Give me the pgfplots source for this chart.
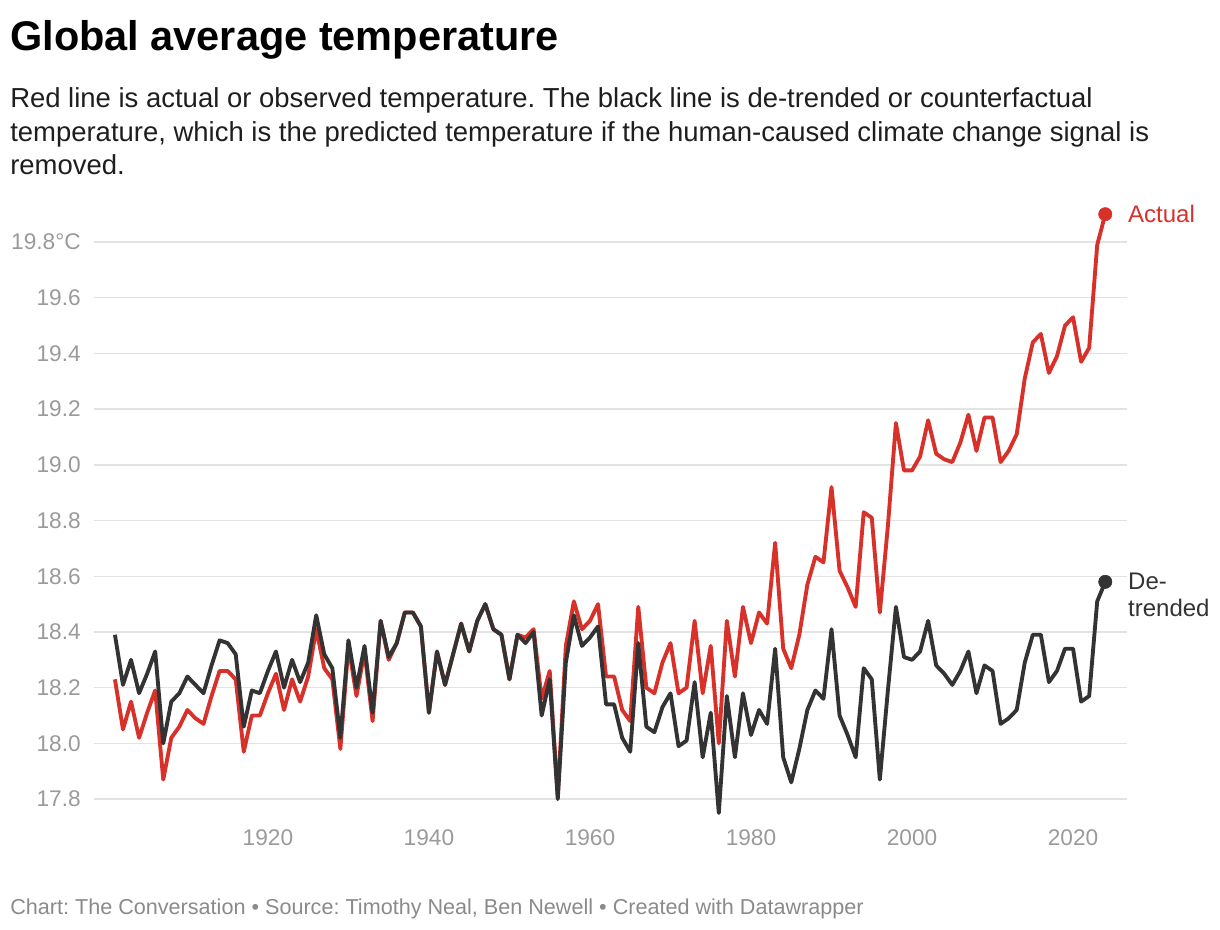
\documentclass[border=0pt]{standalone}
\usepackage{fontspec}
\setmainfont{Liberation Sans}
\usepackage{pgfplots}
\usepackage{pgfplotstable}
\pgfplotsset{compat=1.18}
\frenchspacing

\definecolor{actualred}{HTML}{D7312A}
\definecolor{detrend}{HTML}{333333}
\definecolor{gridgray}{HTML}{E3E3E3}
\definecolor{ticktext}{HTML}{9A9A9A}
\definecolor{foot}{HTML}{8A8A8A}
\definecolor{bodytext}{HTML}{1E1E1E}

% year, observed temperature, de-trended (counterfactual) temperature
\pgfplotstableread{
year actual detrended
1901 18.23 18.39
1902 18.05 18.21
1903 18.15 18.30
1904 18.02 18.18
1905 18.11 18.25
1906 18.19 18.33
1907 17.87 18.00
1908 18.02 18.15
1909 18.06 18.18
1910 18.12 18.24
1911 18.09 18.21
1912 18.07 18.18
1913 18.17 18.28
1914 18.26 18.37
1915 18.26 18.36
1916 18.23 18.32
1917 17.97 18.06
1918 18.10 18.19
1919 18.10 18.18
1920 18.18 18.26
1921 18.25 18.33
1922 18.12 18.20
1923 18.23 18.30
1924 18.15 18.22
1925 18.24 18.29
1926 18.41 18.46
1927 18.27 18.32
1928 18.23 18.27
1929 17.98 18.02
1930 18.35 18.37
1931 18.17 18.20
1932 18.33 18.35
1933 18.08 18.11
1934 18.44 18.44
1935 18.30 18.31
1936 18.36 18.36
1937 18.47 18.47
1938 18.47 18.47
1939 18.42 18.42
1940 18.11 18.11
1941 18.33 18.33
1942 18.21 18.21
1943 18.32 18.32
1944 18.43 18.43
1945 18.33 18.33
1946 18.44 18.44
1947 18.50 18.50
1948 18.41 18.41
1949 18.39 18.39
1950 18.23 18.23
1951 18.39 18.39
1952 18.38 18.36
1953 18.41 18.40
1954 18.16 18.10
1955 18.26 18.23
1956 17.81 17.80
1957 18.35 18.29
1958 18.51 18.46
1959 18.41 18.35
1960 18.44 18.38
1961 18.50 18.42
1962 18.24 18.14
1963 18.24 18.14
1964 18.12 18.02
1965 18.08 17.97
1966 18.49 18.36
1967 18.20 18.06
1968 18.18 18.04
1969 18.29 18.13
1970 18.36 18.18
1971 18.18 17.99
1972 18.20 18.01
1973 18.44 18.22
1974 18.18 17.95
1975 18.35 18.11
1976 18.00 17.75
1977 18.44 18.17
1978 18.24 17.95
1979 18.49 18.18
1980 18.36 18.03
1981 18.47 18.12
1982 18.43 18.07
1983 18.72 18.34
1984 18.34 17.95
1985 18.27 17.86
1986 18.39 17.98
1987 18.57 18.12
1988 18.67 18.19
1989 18.65 18.16
1990 18.92 18.41
1991 18.62 18.10
1992 18.56 18.03
1993 18.49 17.95
1994 18.83 18.27
1995 18.81 18.23
1996 18.47 17.87
1997 18.78 18.19
1998 19.15 18.49
1999 18.98 18.31
2000 18.98 18.30
2001 19.03 18.33
2002 19.16 18.44
2003 19.04 18.28
2004 19.02 18.25
2005 19.01 18.21
2006 19.08 18.26
2007 19.18 18.33
2008 19.05 18.18
2009 19.17 18.28
2010 19.17 18.26
2011 19.01 18.07
2012 19.05 18.09
2013 19.11 18.12
2014 19.31 18.29
2015 19.44 18.39
2016 19.47 18.39
2017 19.33 18.22
2018 19.39 18.26
2019 19.50 18.34
2020 19.53 18.34
2021 19.37 18.15
2022 19.42 18.17
2023 19.79 18.51
2024 19.90 18.58
}\temps

\begin{document}
\begin{tikzpicture}
% page frame and header/footer text, laid out in pixel units
\begin{scope}[x=0.75pt,y=-0.75pt]
\useasboundingbox (0,0) rectangle (1220,930);
\node[anchor=base west, inner sep=0, text=black,
      font=\fontsize{31.1}{36}\selectfont\bfseries] at (10,51) {Global average temperature};
\begin{scope}[every node/.style={anchor=base west, inner sep=0, text=bodytext,
      font=\fontsize{20.6}{24}\selectfont}]
\node at (10,108) {Red line is actual or observed temperature. The black line is de-trended or counterfactual};
\node at (10,142) {temperature, which is the predicted temperature if the human-caused climate change signal is};
\node at (10,175) {removed.};
\end{scope}
\node[anchor=base west, inner sep=0, text=foot, font=\fontsize{16.2}{19}\selectfont]
  at (10,914) {Chart: The Conversation \textbullet{} Source: Timothy Neal, Ben Newell \textbullet{} Created with Datawrapper};
\end{scope}

\begin{axis}[
  at={(70.5pt,-620.2pt)}, anchor=south west,
  scale only axis, width=774.75pt, height=470pt,
  xmin=1898.4, xmax=2026.7, ymin=17.7, ymax=19.95,
  clip=false,
  axis line style={draw=none},
  major tick length=0pt,
  ymajorgrids,
  grid style={gridgray, line width=1.1pt},
  ytick={17.8,18.0,18.2,18.4,18.6,18.8,19.0,19.2,19.4,19.6,19.8},
  yticklabels={17.8,18.0,18.2,18.4,18.6,18.8,19.0,19.2,19.4,19.6,19.8°C},
  xtick={1920,1940,1960,1980,2000,2020},
  xticklabels={1920,1940,1960,1980,2000,2020},
  yticklabel style={anchor=east, inner sep=0pt, xshift=-9.75pt, text=ticktext,
    font=\fontsize{17}{20}\selectfont},
  xticklabel style={anchor=north, inner sep=0pt, yshift=-1.6pt, text=ticktext,
    font=\fontsize{17}{20}\selectfont},
]
\addplot[actualred, line width=2.9pt, line join=round, no marks] table[x=year, y=actual] {\temps};
\addplot[detrend, line width=2.9pt, line join=round, no marks] table[x=year, y=detrended] {\temps};
\addplot[actualred, only marks, mark=*, mark size=5pt] coordinates {(2024,19.90)};
\addplot[detrend, only marks, mark=*, mark size=5pt] coordinates {(2024,18.58)};
\node[anchor=west, inner sep=0, text=actualred, font=\fontsize{18}{21}\selectfont,
      xshift=17pt] at (axis cs:2024,19.90) {Actual};
\node[anchor=west, inner sep=0, text=detrend, font=\fontsize{18}{21}\selectfont,
      xshift=17pt] at (axis cs:2024,18.58) {De-};
\node[anchor=west, inner sep=0, text=detrend, font=\fontsize{18}{21}\selectfont,
      xshift=17pt, yshift=-19.5pt] at (axis cs:2024,18.58) {trended};
\end{axis}
\end{tikzpicture}
\end{document}
